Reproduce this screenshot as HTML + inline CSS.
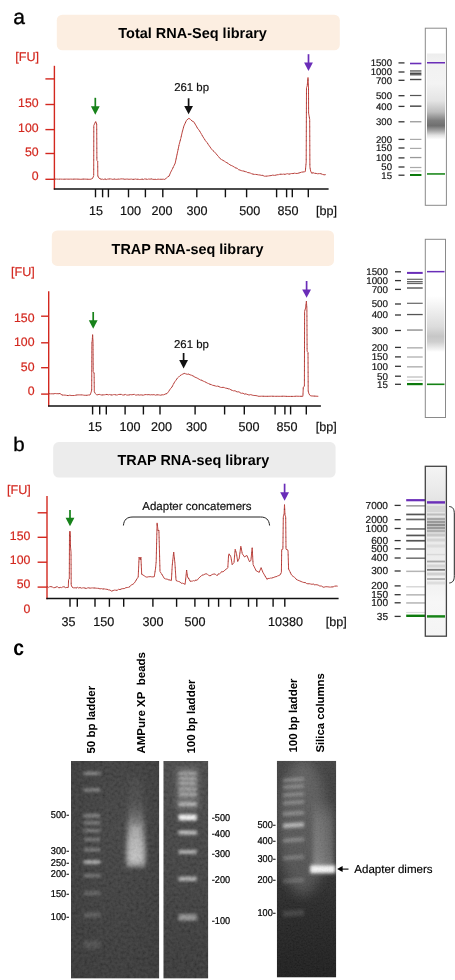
<!DOCTYPE html>
<html><head><meta charset="utf-8"><title>Figure</title>
<style>
html,body{margin:0;padding:0;background:#fff;}
body{width:455px;height:980px;overflow:hidden;font-family:"Liberation Sans",sans-serif;}
svg{display:block;font-family:"Liberation Sans",sans-serif;text-rendering:geometricPrecision;}
</style></head><body>
<svg width="455" height="980" viewBox="0 0 455 980">
<defs>
<filter id="b1" x="-20%" y="-50%" width="140%" height="200%"><feGaussianBlur stdDeviation="1.2"/></filter>
<filter id="b2" x="-20%" y="-50%" width="140%" height="200%"><feGaussianBlur stdDeviation="2.2"/></filter>
<filter id="b05" x="-20%" y="-100%" width="140%" height="300%"><feGaussianBlur stdDeviation="0.5"/></filter>
<filter id="noise" x="0" y="0" width="100%" height="100%">
<feTurbulence type="fractalNoise" baseFrequency="0.55" numOctaves="2" seed="3" result="n"/>
<feColorMatrix in="n" type="matrix" values="0 0 0 0 1  0 0 0 0 1  0 0 0 0 1  0.9 0 0 0 -0.38"/>
</filter>
</defs>
<rect width="455" height="980" fill="#fff"/>

<text x="13.2" y="24.1" font-size="21" fill="#000" stroke="#000" stroke-width="0.35">a</text>
<rect x="56.8" y="14.7" width="283" height="35.6" rx="5.5" fill="#fceee1"/>
<text x="118.3" y="37.6" font-size="14.5" fill="#000" text-anchor="start" font-weight="bold" textLength="148.6" lengthAdjust="spacingAndGlyphs">Total RNA-Seq library</text>
<text x="15.3" y="61.2" font-size="12.6" fill="#d3281f" text-anchor="start" font-weight="normal"  stroke="#d3281f" stroke-width="0.18">[FU]</text>
<line x1="54.4" y1="65.8" x2="54.4" y2="189.6" stroke="#d3281f" stroke-width="1.4" />
<line x1="45.4" y1="78.9" x2="54.4" y2="78.9" stroke="#d3281f" stroke-width="1.4" />
<line x1="45.4" y1="104.5" x2="54.4" y2="104.5" stroke="#d3281f" stroke-width="1.4" />
<line x1="45.4" y1="129.6" x2="54.4" y2="129.6" stroke="#d3281f" stroke-width="1.4" />
<line x1="45.4" y1="153.5" x2="54.4" y2="153.5" stroke="#d3281f" stroke-width="1.4" />
<line x1="45.4" y1="179.3" x2="54.4" y2="179.3" stroke="#d3281f" stroke-width="1.4" />
<text x="38.6" y="107.3" font-size="12.3" fill="#d3281f" text-anchor="end" font-weight="normal"  stroke="#d3281f" stroke-width="0.18">150</text>
<text x="38.6" y="131.8" font-size="12.3" fill="#d3281f" text-anchor="end" font-weight="normal"  stroke="#d3281f" stroke-width="0.18">100</text>
<text x="38.6" y="156.2" font-size="12.3" fill="#d3281f" text-anchor="end" font-weight="normal"  stroke="#d3281f" stroke-width="0.18">50</text>
<text x="38.6" y="180.4" font-size="12.3" fill="#d3281f" text-anchor="end" font-weight="normal"  stroke="#d3281f" stroke-width="0.18">0</text>
<line x1="53.8" y1="189" x2="328.6" y2="189" stroke="#111" stroke-width="1.4" />
<line x1="95.5" y1="189" x2="95.5" y2="197.3" stroke="#111" stroke-width="1.4" />
<line x1="102.6" y1="189" x2="102.6" y2="197.3" stroke="#111" stroke-width="1.4" />
<line x1="108.4" y1="189" x2="108.4" y2="197.3" stroke="#111" stroke-width="1.4" />
<line x1="128.5" y1="189" x2="128.5" y2="197.3" stroke="#111" stroke-width="1.4" />
<line x1="145.4" y1="189" x2="145.4" y2="197.3" stroke="#111" stroke-width="1.4" />
<line x1="162.8" y1="189" x2="162.8" y2="197.3" stroke="#111" stroke-width="1.4" />
<line x1="196.8" y1="189" x2="196.8" y2="197.3" stroke="#111" stroke-width="1.4" />
<line x1="225.4" y1="189" x2="225.4" y2="197.3" stroke="#111" stroke-width="1.4" />
<line x1="246.6" y1="189" x2="246.6" y2="197.3" stroke="#111" stroke-width="1.4" />
<line x1="276.6" y1="189" x2="276.6" y2="197.3" stroke="#111" stroke-width="1.4" />
<line x1="286.6" y1="189" x2="286.6" y2="197.3" stroke="#111" stroke-width="1.4" />
<line x1="292.3" y1="189" x2="292.3" y2="197.3" stroke="#111" stroke-width="1.4" />
<line x1="308.3" y1="189" x2="308.3" y2="197.3" stroke="#111" stroke-width="1.4" />
<text x="96" y="215.3" font-size="12.6" fill="#111" text-anchor="middle" font-weight="normal"  stroke="#111" stroke-width="0.18">15</text>
<text x="130.6" y="215.3" font-size="12.6" fill="#111" text-anchor="middle" font-weight="normal"  stroke="#111" stroke-width="0.18">100</text>
<text x="162" y="215.3" font-size="12.6" fill="#111" text-anchor="middle" font-weight="normal"  stroke="#111" stroke-width="0.18">200</text>
<text x="197" y="215.3" font-size="12.6" fill="#111" text-anchor="middle" font-weight="normal"  stroke="#111" stroke-width="0.18">300</text>
<text x="249.7" y="215.3" font-size="12.6" fill="#111" text-anchor="middle" font-weight="normal"  stroke="#111" stroke-width="0.18">500</text>
<text x="288.1" y="215.3" font-size="12.6" fill="#111" text-anchor="middle" font-weight="normal"  stroke="#111" stroke-width="0.18">850</text>
<text x="326.6" y="215.3" font-size="12.6" fill="#111" text-anchor="middle" font-weight="normal"  stroke="#111" stroke-width="0.18">[bp]</text>
<polyline points="54.5,179.1 56.5,179.1 58.6,179.2 60.6,179.1 62.6,179.2 64.7,179.2 66.7,179.1 68.7,179.2 70.8,179.1 72.8,179.2 74.8,179.1 76.9,179.1 78.9,179.2 80.9,179.3 83.0,179.1 85.0,179.1 87.0,179.2 89.1,179.3 91.1,179.2 93.0,177.8 93.7,175.5 93.8,125.5 95.7,121.5 96.7,124.0 96.9,160.4 97.7,161.2 97.8,176.0 99.0,178.2 101.0,179.2 101.0,179.3 102.3,179.1 103.7,179.5 105.0,178.9 106.3,179.5 107.6,179.1 109.0,179.0 110.3,178.9 111.6,179.1 112.9,179.4 114.2,179.0 115.6,179.3 116.9,179.3 118.2,179.1 119.5,179.2 120.9,178.9 122.2,178.9 123.5,179.0 124.8,179.3 126.2,179.1 127.5,179.1 128.8,179.3 130.2,179.2 131.5,179.1 132.8,179.4 134.1,179.3 135.4,179.0 136.8,179.3 138.1,179.2 139.4,179.5 140.8,179.4 142.1,179.1 143.4,179.5 144.7,178.9 146.1,179.1 147.4,179.4 148.7,179.0 150.0,179.2 151.3,178.9 152.7,179.3 154.0,179.4 155.3,179.3 156.6,179.5 158.0,179.1 159.3,179.3 160.6,179.3 161.9,179.3 163.3,179.2 164.6,179.4 166.1,178.4 167.6,177.0 169.1,176.1 170.6,172.4 172.1,169.6 173.7,166.3 175.2,163.2 176.5,157.0 177.9,150.4 179.2,144.3 180.8,138.4 182.3,131.8 183.9,126.0 186.5,120.3 188.9,118.3 190.5,119.4 192.1,121.1 193.7,121.7 195.0,123.9 196.3,126.0 197.6,128.4 198.9,129.9 200.3,132.2 201.6,134.4 202.9,136.7 204.2,138.7 205.5,140.8 207.0,142.5 208.5,144.8 210.0,146.9 211.4,148.9 212.9,150.6 214.3,151.7 215.7,153.3 217.1,155.0 218.6,156.7 220.0,158.5 221.4,159.5 222.9,160.3 224.3,161.1 225.7,162.1 227.2,162.9 228.6,163.8 230.0,164.9 231.4,165.5 232.9,166.2 234.3,167.1 235.7,167.9 237.2,168.3 238.6,169.7 239.9,170.0 241.2,170.6 242.5,170.9 243.8,171.1 245.1,171.6 246.4,171.8 247.7,172.6 249.0,172.7 250.3,173.1 251.6,173.7 252.9,174.1 254.3,174.4 255.7,174.4 257.2,174.6 258.6,174.9 260.0,175.0 261.4,175.4 262.8,175.4 264.3,176.2 265.7,176.2 267.1,176.1 268.5,175.9 270.0,175.7 271.4,175.5 272.8,175.1 274.3,175.4 275.7,175.2 277.0,174.8 278.4,174.7 279.7,174.3 281.0,174.2 282.4,174.3 283.7,174.1 285.0,174.4 286.4,173.9 287.7,173.7 289.0,174.2 290.4,173.8 291.7,173.5 293.0,173.6 294.4,173.2 295.7,173.4 297.1,173.5 298.6,173.1 300.0,172.7 301.4,172.2 302.9,172.0 304.3,171.8 305.3,171.6 306.2,162.0 306.5,87.7 307.2,86.0 308.0,77.5 308.5,88.0 308.6,113.0 309.7,119.4 309.9,166.9 310.6,171.0 311.7,173.2 312.9,172.9 312.9,172.6 314.5,173.3 316.1,173.4 317.7,173.8 319.3,173.6 320.9,173.7 322.5,174.4 324.1,174.8 325.7,174.6" fill="none" stroke="#c44a45" stroke-width="1.0" stroke-linejoin="round" />
<polyline points="54.5,179.1 56.5,179.1 58.6,179.2 60.6,179.1 62.6,179.2 64.7,179.2 66.7,179.1 68.7,179.2 70.8,179.1 72.8,179.2 74.8,179.1 76.9,179.1 78.9,179.2 80.9,179.3 83.0,179.1 85.0,179.1 87.0,179.2 89.1,179.3 91.1,179.2 93.0,177.8 93.7,175.5 93.8,125.5 95.7,121.5 96.7,124.0 96.9,160.4 97.7,161.2 97.8,176.0 99.0,178.2 101.0,179.2 101.0,179.3 102.3,179.1 103.7,179.5 105.0,178.9 106.3,179.5 107.6,179.1 109.0,179.0 110.3,178.9 111.6,179.1 112.9,179.4 114.2,179.0 115.6,179.3 116.9,179.3 118.2,179.1 119.5,179.2 120.9,178.9 122.2,178.9 123.5,179.0 124.8,179.3 126.2,179.1 127.5,179.1 128.8,179.3 130.2,179.2 131.5,179.1 132.8,179.4 134.1,179.3 135.4,179.0 136.8,179.3 138.1,179.2 139.4,179.5 140.8,179.4 142.1,179.1 143.4,179.5 144.7,178.9 146.1,179.1 147.4,179.4 148.7,179.0 150.0,179.2 151.3,178.9 152.7,179.3 154.0,179.4 155.3,179.3 156.6,179.5 158.0,179.1 159.3,179.3 160.6,179.3 161.9,179.3 163.3,179.2 164.6,179.4 166.1,178.4 167.6,177.0 169.1,176.1 170.6,172.4 172.1,169.6 173.7,166.3 175.2,163.2 176.5,157.0 177.9,150.4 179.2,144.3 180.8,138.4 182.3,131.8 183.9,126.0 186.5,120.3 188.9,118.3 190.5,119.4 192.1,121.1 193.7,121.7 195.0,123.9 196.3,126.0 197.6,128.4 198.9,129.9 200.3,132.2 201.6,134.4 202.9,136.7 204.2,138.7 205.5,140.8 207.0,142.5 208.5,144.8 210.0,146.9 211.4,148.9 212.9,150.6 214.3,151.7 215.7,153.3 217.1,155.0 218.6,156.7 220.0,158.5 221.4,159.5 222.9,160.3 224.3,161.1 225.7,162.1 227.2,162.9 228.6,163.8 230.0,164.9 231.4,165.5 232.9,166.2 234.3,167.1 235.7,167.9 237.2,168.3 238.6,169.7 239.9,170.0 241.2,170.6 242.5,170.9 243.8,171.1 245.1,171.6 246.4,171.8 247.7,172.6 249.0,172.7 250.3,173.1 251.6,173.7 252.9,174.1 254.3,174.4 255.7,174.4 257.2,174.6 258.6,174.9 260.0,175.0 261.4,175.4 262.8,175.4 264.3,176.2 265.7,176.2 267.1,176.1 268.5,175.9 270.0,175.7 271.4,175.5 272.8,175.1 274.3,175.4 275.7,175.2 277.0,174.8 278.4,174.7 279.7,174.3 281.0,174.2 282.4,174.3 283.7,174.1 285.0,174.4 286.4,173.9 287.7,173.7 289.0,174.2 290.4,173.8 291.7,173.5 293.0,173.6 294.4,173.2 295.7,173.4 297.1,173.5 298.6,173.1 300.0,172.7 301.4,172.2 302.9,172.0 304.3,171.8 305.3,171.6 306.2,162.0 306.5,87.7 307.2,86.0 308.0,77.5 308.5,88.0 308.6,113.0 309.7,119.4 309.9,166.9 310.6,171.0 311.7,173.2 312.9,172.9 312.9,172.6 314.5,173.3 316.1,173.4 317.7,173.8 319.3,173.6 320.9,173.7 322.5,174.4 324.1,174.8 325.7,174.6" fill="none" stroke="#3a1a1a" stroke-opacity="0.28" stroke-width="1.0" stroke-dasharray="1.3 3.1 0.8 4.2" stroke-linejoin="round"/>
<line x1="95.3" y1="97.8" x2="95.3" y2="107.3" stroke="#17821a" stroke-width="1.7" />
<polygon points="90.89999999999999,106.3 99.7,106.3 95.3,114.7" fill="#17821a"/>
<text x="191.6" y="91" font-size="11.4" fill="#111" text-anchor="middle" font-weight="normal"  stroke="#111" stroke-width="0.18">261 bp</text>
<line x1="188.6" y1="98.3" x2="188.6" y2="106.89999999999999" stroke="#111" stroke-width="1.7" />
<polygon points="184.2,105.89999999999999 193.0,105.89999999999999 188.6,114.3" fill="#111"/>
<line x1="308.5" y1="54.2" x2="308.5" y2="63.6" stroke="#6a2db8" stroke-width="1.7" />
<polygon points="304.1,62.6 312.9,62.6 308.5,71.0" fill="#6a2db8"/>
<rect x="51.8" y="230.5" width="282.2" height="35.4" rx="5.5" fill="#fceee1"/>
<text x="111.6" y="254" font-size="14.5" fill="#000" text-anchor="start" font-weight="bold" textLength="151.8" lengthAdjust="spacingAndGlyphs">TRAP RNA-seq library</text>
<text x="11" y="276.2" font-size="12.6" fill="#d3281f" text-anchor="start" font-weight="normal"  stroke="#d3281f" stroke-width="0.18">[FU]</text>
<line x1="48.7" y1="291.2" x2="48.7" y2="406.6" stroke="#d3281f" stroke-width="1.4" />
<line x1="41.1" y1="316.2" x2="48.7" y2="316.2" stroke="#d3281f" stroke-width="1.4" />
<line x1="41.1" y1="342.8" x2="48.7" y2="342.8" stroke="#d3281f" stroke-width="1.4" />
<line x1="41.1" y1="367.7" x2="48.7" y2="367.7" stroke="#d3281f" stroke-width="1.4" />
<line x1="41.1" y1="394.1" x2="48.7" y2="394.1" stroke="#d3281f" stroke-width="1.4" />
<text x="34.5" y="322.3" font-size="12.3" fill="#d3281f" text-anchor="end" font-weight="normal"  stroke="#d3281f" stroke-width="0.18">150</text>
<text x="34.5" y="346.4" font-size="12.3" fill="#d3281f" text-anchor="end" font-weight="normal"  stroke="#d3281f" stroke-width="0.18">100</text>
<text x="34.5" y="370.9" font-size="12.3" fill="#d3281f" text-anchor="end" font-weight="normal"  stroke="#d3281f" stroke-width="0.18">50</text>
<text x="34.5" y="395.1" font-size="12.3" fill="#d3281f" text-anchor="end" font-weight="normal"  stroke="#d3281f" stroke-width="0.18">0</text>
<line x1="48.1" y1="406" x2="320.9" y2="406" stroke="#111" stroke-width="1.4" />
<line x1="92.6" y1="406" x2="92.6" y2="414.5" stroke="#111" stroke-width="1.4" />
<line x1="99.7" y1="406" x2="99.7" y2="414.5" stroke="#111" stroke-width="1.4" />
<line x1="106.3" y1="406" x2="106.3" y2="414.5" stroke="#111" stroke-width="1.4" />
<line x1="125.1" y1="406" x2="125.1" y2="414.5" stroke="#111" stroke-width="1.4" />
<line x1="143.4" y1="406" x2="143.4" y2="414.5" stroke="#111" stroke-width="1.4" />
<line x1="160" y1="406" x2="160" y2="414.5" stroke="#111" stroke-width="1.4" />
<line x1="195.1" y1="406" x2="195.1" y2="414.5" stroke="#111" stroke-width="1.4" />
<line x1="224.6" y1="406" x2="224.6" y2="414.5" stroke="#111" stroke-width="1.4" />
<line x1="244.3" y1="406" x2="244.3" y2="414.5" stroke="#111" stroke-width="1.4" />
<line x1="275.1" y1="406" x2="275.1" y2="414.5" stroke="#111" stroke-width="1.4" />
<line x1="284.9" y1="406" x2="284.9" y2="414.5" stroke="#111" stroke-width="1.4" />
<line x1="290.6" y1="406" x2="290.6" y2="414.5" stroke="#111" stroke-width="1.4" />
<line x1="306.3" y1="406" x2="306.3" y2="414.5" stroke="#111" stroke-width="1.4" />
<text x="95" y="431" font-size="12.6" fill="#111" text-anchor="middle" font-weight="normal"  stroke="#111" stroke-width="0.18">15</text>
<text x="130" y="431" font-size="12.6" fill="#111" text-anchor="middle" font-weight="normal"  stroke="#111" stroke-width="0.18">100</text>
<text x="161.4" y="431" font-size="12.6" fill="#111" text-anchor="middle" font-weight="normal"  stroke="#111" stroke-width="0.18">200</text>
<text x="196.6" y="431" font-size="12.6" fill="#111" text-anchor="middle" font-weight="normal"  stroke="#111" stroke-width="0.18">300</text>
<text x="249.1" y="431" font-size="12.6" fill="#111" text-anchor="middle" font-weight="normal"  stroke="#111" stroke-width="0.18">500</text>
<text x="287.1" y="431" font-size="12.6" fill="#111" text-anchor="middle" font-weight="normal"  stroke="#111" stroke-width="0.18">850</text>
<text x="326.3" y="431" font-size="12.6" fill="#111" text-anchor="middle" font-weight="normal"  stroke="#111" stroke-width="0.18">[bp]</text>
<polyline points="48.8,393.7 50.4,393.8 52.0,393.8 53.6,393.8 55.2,393.5 56.8,393.7 58.4,393.7 60.0,393.5 62.0,395.0 63.6,395.1 65.1,395.1 66.7,395.4 68.2,395.6 69.8,395.2 71.3,395.5 72.9,395.5 74.4,395.5 76.0,395.1 77.6,394.9 79.1,394.9 80.7,394.9 82.2,394.9 83.8,395.2 85.3,395.3 86.9,395.3 88.4,395.0 90.0,395.0 90.3,394.5 91.2,392.0 91.7,390.0 91.9,343.0 92.3,340.0 92.6,334.6 93.0,342.0 93.2,371.5 94.1,373.0 94.3,391.5 95.2,393.5 96.5,394.6 96.5,394.7 97.8,394.8 99.1,394.3 100.4,394.7 101.7,395.0 103.0,394.9 104.4,394.8 105.7,394.6 107.0,394.4 108.3,394.9 109.6,394.5 110.9,394.9 112.2,395.0 113.5,394.6 114.8,394.6 116.2,395.0 117.5,394.9 118.8,394.4 120.1,394.4 121.4,394.4 122.7,395.0 124.0,395.0 125.3,394.4 126.6,395.0 127.9,395.1 129.2,394.9 130.6,394.6 131.9,394.8 133.2,394.5 134.5,394.4 135.8,395.2 137.1,394.9 138.4,394.8 139.7,395.1 141.0,394.8 142.3,395.1 143.7,395.1 145.0,394.6 146.3,394.6 147.6,394.7 148.9,394.6 150.2,394.9 151.5,394.7 152.8,394.8 154.1,394.6 155.4,395.2 156.8,394.8 158.1,394.8 159.4,395.0 160.7,395.2 162.0,394.8 163.7,394.8 165.4,394.0 167.1,393.5 168.7,391.4 170.4,388.8 172.0,387.0 173.3,384.4 174.7,381.9 176.0,380.2 177.3,378.2 178.7,377.0 180.0,375.7 181.4,374.8 182.9,374.0 184.3,373.4 185.7,373.8 187.2,374.3 188.6,374.1 190.0,374.8 191.7,375.3 193.3,376.1 195.0,377.2 196.4,377.7 197.7,378.4 199.1,379.2 200.5,380.0 201.8,380.3 203.2,381.1 204.5,381.6 205.9,382.3 207.3,383.1 208.6,383.6 210.0,384.3 211.3,384.6 212.6,385.3 213.9,385.5 215.2,385.9 216.5,386.3 217.8,386.1 219.2,386.7 220.5,387.3 221.8,387.5 223.1,387.3 224.4,387.6 225.7,388.2 227.0,388.3 228.3,388.8 229.7,389.0 231.0,389.9 232.3,390.4 233.7,390.9 235.0,390.7 236.3,391.5 237.6,391.9 239.0,391.8 240.3,392.8 241.6,393.3 243.0,393.1 244.3,394.1 245.6,393.9 246.9,394.2 248.2,394.8 249.5,394.9 250.8,394.6 252.1,395.1 253.4,395.4 254.7,395.5 256.0,395.6 257.3,395.9 258.6,396.3 258.6,396.3 261.8,396.2 264.9,396.3 268.1,396.3 271.3,396.2 274.4,396.3 277.6,396.3 280.8,396.3 283.9,396.2 287.1,396.4 290.2,396.4 293.4,396.4 296.6,396.2 299.7,396.3 302.9,396.3 302.9,396.3 303.3,387.0 304.4,386.4 304.6,311.3 305.6,308.0 306.4,301.2 306.9,309.0 307.1,351.2 308.0,352.5 308.2,391.0 309.0,394.0 310.6,395.9 318.3,396.3" fill="none" stroke="#c44a45" stroke-width="1.0" stroke-linejoin="round" />
<polyline points="48.8,393.7 50.4,393.8 52.0,393.8 53.6,393.8 55.2,393.5 56.8,393.7 58.4,393.7 60.0,393.5 62.0,395.0 63.6,395.1 65.1,395.1 66.7,395.4 68.2,395.6 69.8,395.2 71.3,395.5 72.9,395.5 74.4,395.5 76.0,395.1 77.6,394.9 79.1,394.9 80.7,394.9 82.2,394.9 83.8,395.2 85.3,395.3 86.9,395.3 88.4,395.0 90.0,395.0 90.3,394.5 91.2,392.0 91.7,390.0 91.9,343.0 92.3,340.0 92.6,334.6 93.0,342.0 93.2,371.5 94.1,373.0 94.3,391.5 95.2,393.5 96.5,394.6 96.5,394.7 97.8,394.8 99.1,394.3 100.4,394.7 101.7,395.0 103.0,394.9 104.4,394.8 105.7,394.6 107.0,394.4 108.3,394.9 109.6,394.5 110.9,394.9 112.2,395.0 113.5,394.6 114.8,394.6 116.2,395.0 117.5,394.9 118.8,394.4 120.1,394.4 121.4,394.4 122.7,395.0 124.0,395.0 125.3,394.4 126.6,395.0 127.9,395.1 129.2,394.9 130.6,394.6 131.9,394.8 133.2,394.5 134.5,394.4 135.8,395.2 137.1,394.9 138.4,394.8 139.7,395.1 141.0,394.8 142.3,395.1 143.7,395.1 145.0,394.6 146.3,394.6 147.6,394.7 148.9,394.6 150.2,394.9 151.5,394.7 152.8,394.8 154.1,394.6 155.4,395.2 156.8,394.8 158.1,394.8 159.4,395.0 160.7,395.2 162.0,394.8 163.7,394.8 165.4,394.0 167.1,393.5 168.7,391.4 170.4,388.8 172.0,387.0 173.3,384.4 174.7,381.9 176.0,380.2 177.3,378.2 178.7,377.0 180.0,375.7 181.4,374.8 182.9,374.0 184.3,373.4 185.7,373.8 187.2,374.3 188.6,374.1 190.0,374.8 191.7,375.3 193.3,376.1 195.0,377.2 196.4,377.7 197.7,378.4 199.1,379.2 200.5,380.0 201.8,380.3 203.2,381.1 204.5,381.6 205.9,382.3 207.3,383.1 208.6,383.6 210.0,384.3 211.3,384.6 212.6,385.3 213.9,385.5 215.2,385.9 216.5,386.3 217.8,386.1 219.2,386.7 220.5,387.3 221.8,387.5 223.1,387.3 224.4,387.6 225.7,388.2 227.0,388.3 228.3,388.8 229.7,389.0 231.0,389.9 232.3,390.4 233.7,390.9 235.0,390.7 236.3,391.5 237.6,391.9 239.0,391.8 240.3,392.8 241.6,393.3 243.0,393.1 244.3,394.1 245.6,393.9 246.9,394.2 248.2,394.8 249.5,394.9 250.8,394.6 252.1,395.1 253.4,395.4 254.7,395.5 256.0,395.6 257.3,395.9 258.6,396.3 258.6,396.3 261.8,396.2 264.9,396.3 268.1,396.3 271.3,396.2 274.4,396.3 277.6,396.3 280.8,396.3 283.9,396.2 287.1,396.4 290.2,396.4 293.4,396.4 296.6,396.2 299.7,396.3 302.9,396.3 302.9,396.3 303.3,387.0 304.4,386.4 304.6,311.3 305.6,308.0 306.4,301.2 306.9,309.0 307.1,351.2 308.0,352.5 308.2,391.0 309.0,394.0 310.6,395.9 318.3,396.3" fill="none" stroke="#3a1a1a" stroke-opacity="0.28" stroke-width="1.0" stroke-dasharray="1.3 3.1 0.8 4.2" stroke-linejoin="round"/>
<line x1="93.2" y1="312" x2="93.2" y2="321.3" stroke="#17821a" stroke-width="1.7" />
<polygon points="88.8,320.3 97.60000000000001,320.3 93.2,328.7" fill="#17821a"/>
<text x="191.4" y="347.5" font-size="11.4" fill="#111" text-anchor="middle" font-weight="normal"  stroke="#111" stroke-width="0.18">261 bp</text>
<line x1="183.6" y1="353" x2="183.6" y2="361.0" stroke="#111" stroke-width="1.7" />
<polygon points="179.2,360.0 188.0,360.0 183.6,368.4" fill="#111"/>
<line x1="306.6" y1="281" x2="306.6" y2="290.40000000000003" stroke="#6a2db8" stroke-width="1.7" />
<polygon points="302.20000000000005,289.40000000000003 311.0,289.40000000000003 306.6,297.8" fill="#6a2db8"/>
<text transform="translate(13.2,451) scale(1.05,1)" font-size="19.6" fill="#000" stroke="#000" stroke-width="0.3">b</text>
<rect x="53.2" y="442.1" width="282.4" height="35.4" rx="5.5" fill="#ececec"/>
<text x="117.5" y="464.7" font-size="14.5" fill="#000" text-anchor="start" font-weight="bold" textLength="151.8" lengthAdjust="spacingAndGlyphs">TRAP RNA-seq library</text>
<text x="7" y="494.2" font-size="12.6" fill="#d3281f" text-anchor="start" font-weight="normal"  stroke="#d3281f" stroke-width="0.18">[FU]</text>
<line x1="47" y1="496.1" x2="47" y2="599.2" stroke="#d3281f" stroke-width="1.4" />
<line x1="37.6" y1="512.8" x2="47" y2="512.8" stroke="#d3281f" stroke-width="1.4" />
<line x1="37.6" y1="537.3" x2="47" y2="537.3" stroke="#d3281f" stroke-width="1.4" />
<line x1="37.6" y1="562.2" x2="47" y2="562.2" stroke="#d3281f" stroke-width="1.4" />
<line x1="37.6" y1="587.1" x2="47" y2="587.1" stroke="#d3281f" stroke-width="1.4" />
<text x="30.4" y="540.2" font-size="12.3" fill="#d3281f" text-anchor="end" font-weight="normal"  stroke="#d3281f" stroke-width="0.18">150</text>
<text x="30.4" y="564.4" font-size="12.3" fill="#d3281f" text-anchor="end" font-weight="normal"  stroke="#d3281f" stroke-width="0.18">100</text>
<text x="30.4" y="588.4" font-size="12.3" fill="#d3281f" text-anchor="end" font-weight="normal"  stroke="#d3281f" stroke-width="0.18">50</text>
<text x="30.4" y="612.5" font-size="12.3" fill="#d3281f" text-anchor="end" font-weight="normal"  stroke="#d3281f" stroke-width="0.18">0</text>
<line x1="46.3" y1="598.5" x2="338.6" y2="598.5" stroke="#111" stroke-width="1.4" />
<line x1="70" y1="598.5" x2="70" y2="606.8" stroke="#111" stroke-width="1.4" />
<line x1="77.3" y1="598.5" x2="77.3" y2="606.8" stroke="#111" stroke-width="1.4" />
<line x1="95" y1="598.5" x2="95" y2="606.8" stroke="#111" stroke-width="1.4" />
<line x1="109.4" y1="598.5" x2="109.4" y2="606.8" stroke="#111" stroke-width="1.4" />
<line x1="123.7" y1="598.5" x2="123.7" y2="606.8" stroke="#111" stroke-width="1.4" />
<line x1="152.9" y1="598.5" x2="152.9" y2="606.8" stroke="#111" stroke-width="1.4" />
<line x1="176.6" y1="598.5" x2="176.6" y2="606.8" stroke="#111" stroke-width="1.4" />
<line x1="194.9" y1="598.5" x2="194.9" y2="606.8" stroke="#111" stroke-width="1.4" />
<line x1="208.6" y1="598.5" x2="208.6" y2="606.8" stroke="#111" stroke-width="1.4" />
<line x1="218.6" y1="598.5" x2="218.6" y2="606.8" stroke="#111" stroke-width="1.4" />
<line x1="230.6" y1="598.5" x2="230.6" y2="606.8" stroke="#111" stroke-width="1.4" />
<line x1="248.5" y1="598.5" x2="248.5" y2="606.8" stroke="#111" stroke-width="1.4" />
<line x1="256.8" y1="598.5" x2="256.8" y2="606.8" stroke="#111" stroke-width="1.4" />
<line x1="273.1" y1="598.5" x2="273.1" y2="606.8" stroke="#111" stroke-width="1.4" />
<line x1="284.8" y1="598.5" x2="284.8" y2="606.8" stroke="#111" stroke-width="1.4" />
<text x="68.6" y="626" font-size="12.6" fill="#111" text-anchor="middle" font-weight="normal"  stroke="#111" stroke-width="0.18">35</text>
<text x="103.7" y="626" font-size="12.6" fill="#111" text-anchor="middle" font-weight="normal"  stroke="#111" stroke-width="0.18">150</text>
<text x="152.9" y="626" font-size="12.6" fill="#111" text-anchor="middle" font-weight="normal"  stroke="#111" stroke-width="0.18">300</text>
<text x="194.9" y="626" font-size="12.6" fill="#111" text-anchor="middle" font-weight="normal"  stroke="#111" stroke-width="0.18">500</text>
<text x="285.4" y="626" font-size="12.6" fill="#111" text-anchor="middle" font-weight="normal"  stroke="#111" stroke-width="0.18">10380</text>
<text x="336.2" y="626" font-size="12.6" fill="#111" text-anchor="middle" font-weight="normal"  stroke="#111" stroke-width="0.18">[bp]</text>
<polyline points="47.0,586.4 48.3,587.4 49.6,586.7 51.0,586.6 52.3,587.0 53.6,587.7 55.0,587.6 56.3,586.9 57.6,586.8 58.9,587.9 60.2,587.4 61.6,587.6 62.9,586.8 64.2,586.8 65.6,587.7 66.9,587.4 68.2,587.5 68.3,587.3 68.6,579.5 69.3,579.0 69.5,531.5 70.3,531.5 70.5,547.0 71.0,552.0 71.2,585.0 72.0,587.0 72.5,587.5 72.5,587.1 73.8,588.0 75.0,587.7 76.2,588.0 77.5,587.3 78.8,588.1 80.0,587.4 81.2,588.2 82.5,587.9 83.8,587.8 85.0,588.1 86.2,588.5 87.5,587.9 88.8,587.8 90.0,588.2 91.2,588.0 92.5,587.9 93.8,588.0 95.0,588.0 96.2,588.2 97.5,588.3 98.8,588.4 100.0,588.9 101.4,588.6 102.8,589.0 104.3,588.9 105.7,589.2 107.1,589.3 108.6,589.9 110.0,590.0 111.4,591.1 112.8,590.7 114.2,590.1 115.7,590.2 117.1,590.4 118.5,589.3 120.0,589.6 121.5,588.9 122.9,588.6 124.3,588.6 125.8,587.7 127.2,587.5 128.6,587.3 130.0,586.5 131.4,584.8 132.9,584.3 134.3,583.1 135.6,581.1 136.9,578.9 138.2,577.1 139.1,557.1 140.2,560.0 140.9,557.0 141.7,574.3 141.7,574.2 143.0,575.0 144.4,575.9 145.7,576.8 146.9,577.2 148.2,576.8 149.4,576.7 150.6,576.6 151.8,576.9 153.1,576.9 154.3,576.6 155.6,568.0 156.2,561.4 157.1,522.9 158.1,531.0 158.9,530.0 160.0,571.4 160.0,571.5 161.4,573.6 162.9,576.0 164.3,578.4 165.7,579.0 167.1,579.1 168.6,579.8 170.0,580.0 171.4,580.6 172.2,566.0 172.8,560.0 173.7,552.0 174.9,562.9 176.0,580.0 176.0,580.4 177.3,581.1 178.7,581.5 180.1,582.0 181.4,583.3 182.6,583.2 183.9,583.7 185.1,584.3 186.0,576.0 186.6,570.0 187.6,577.0 188.5,578.6 188.5,577.9 190.0,581.2 191.2,581.2 192.4,581.1 193.6,580.6 194.7,580.9 195.9,580.0 197.1,580.3 198.6,578.3 200.0,577.0 201.3,575.8 202.5,575.1 203.8,574.8 205.0,574.0 206.3,573.8 207.5,574.4 208.8,575.4 210.0,575.9 211.4,575.0 212.9,574.2 214.3,574.0 215.7,574.4 217.1,575.8 218.3,573.9 219.4,573.9 220.6,573.1 221.7,571.5 222.9,571.9 224.1,571.0 225.4,569.7 226.6,569.0 227.8,567.7 228.6,554.9 229.1,553.8 230.9,556.9 232.2,564.6 234.0,562.5 235.2,549.2 236.5,553.8 237.7,561.5 239.2,558.5 240.8,546.2 242.3,553.8 244.5,556.9 246.9,555.4 249.4,561.5 250.9,560.6 252.2,547.7 253.1,564.6 256.2,570.8 259.2,572.3 261.1,567.7 262.9,572.3 266.9,579.1 266.9,579.4 268.0,578.4 269.2,578.5 270.4,578.1 271.5,578.1 272.7,577.7 273.9,577.4 275.0,576.8 276.2,576.7 277.5,576.0 278.9,575.5 280.2,574.8 281.4,572.3 281.7,549.5 282.9,549.2 283.3,516.9 284.1,514.0 284.5,504.6 285.0,515.0 285.7,516.9 286.0,549.2 288.0,550.2 288.6,569.2 288.5,568.9 290.0,571.8 291.5,575.0 293.1,576.4 294.6,577.3 296.1,579.2 297.7,580.1 299.2,580.7 300.8,581.4 302.3,582.0 303.9,582.5 305.4,582.6 306.7,583.6 308.0,583.8 309.3,583.7 310.7,584.0 312.0,584.3 313.3,584.0 314.6,584.8 315.9,584.7 317.2,584.8 318.5,585.3 319.9,586.1 321.2,585.9 322.5,586.7 323.8,587.3 325.1,586.8 326.5,586.7 327.8,586.8 329.1,587.0 330.4,587.1 331.8,586.9 333.1,586.9 334.6,586.2 336.2,586.0 337.7,586.2" fill="none" stroke="#c44a45" stroke-width="1.0" stroke-linejoin="round" />
<polyline points="47.0,586.4 48.3,587.4 49.6,586.7 51.0,586.6 52.3,587.0 53.6,587.7 55.0,587.6 56.3,586.9 57.6,586.8 58.9,587.9 60.2,587.4 61.6,587.6 62.9,586.8 64.2,586.8 65.6,587.7 66.9,587.4 68.2,587.5 68.3,587.3 68.6,579.5 69.3,579.0 69.5,531.5 70.3,531.5 70.5,547.0 71.0,552.0 71.2,585.0 72.0,587.0 72.5,587.5 72.5,587.1 73.8,588.0 75.0,587.7 76.2,588.0 77.5,587.3 78.8,588.1 80.0,587.4 81.2,588.2 82.5,587.9 83.8,587.8 85.0,588.1 86.2,588.5 87.5,587.9 88.8,587.8 90.0,588.2 91.2,588.0 92.5,587.9 93.8,588.0 95.0,588.0 96.2,588.2 97.5,588.3 98.8,588.4 100.0,588.9 101.4,588.6 102.8,589.0 104.3,588.9 105.7,589.2 107.1,589.3 108.6,589.9 110.0,590.0 111.4,591.1 112.8,590.7 114.2,590.1 115.7,590.2 117.1,590.4 118.5,589.3 120.0,589.6 121.5,588.9 122.9,588.6 124.3,588.6 125.8,587.7 127.2,587.5 128.6,587.3 130.0,586.5 131.4,584.8 132.9,584.3 134.3,583.1 135.6,581.1 136.9,578.9 138.2,577.1 139.1,557.1 140.2,560.0 140.9,557.0 141.7,574.3 141.7,574.2 143.0,575.0 144.4,575.9 145.7,576.8 146.9,577.2 148.2,576.8 149.4,576.7 150.6,576.6 151.8,576.9 153.1,576.9 154.3,576.6 155.6,568.0 156.2,561.4 157.1,522.9 158.1,531.0 158.9,530.0 160.0,571.4 160.0,571.5 161.4,573.6 162.9,576.0 164.3,578.4 165.7,579.0 167.1,579.1 168.6,579.8 170.0,580.0 171.4,580.6 172.2,566.0 172.8,560.0 173.7,552.0 174.9,562.9 176.0,580.0 176.0,580.4 177.3,581.1 178.7,581.5 180.1,582.0 181.4,583.3 182.6,583.2 183.9,583.7 185.1,584.3 186.0,576.0 186.6,570.0 187.6,577.0 188.5,578.6 188.5,577.9 190.0,581.2 191.2,581.2 192.4,581.1 193.6,580.6 194.7,580.9 195.9,580.0 197.1,580.3 198.6,578.3 200.0,577.0 201.3,575.8 202.5,575.1 203.8,574.8 205.0,574.0 206.3,573.8 207.5,574.4 208.8,575.4 210.0,575.9 211.4,575.0 212.9,574.2 214.3,574.0 215.7,574.4 217.1,575.8 218.3,573.9 219.4,573.9 220.6,573.1 221.7,571.5 222.9,571.9 224.1,571.0 225.4,569.7 226.6,569.0 227.8,567.7 228.6,554.9 229.1,553.8 230.9,556.9 232.2,564.6 234.0,562.5 235.2,549.2 236.5,553.8 237.7,561.5 239.2,558.5 240.8,546.2 242.3,553.8 244.5,556.9 246.9,555.4 249.4,561.5 250.9,560.6 252.2,547.7 253.1,564.6 256.2,570.8 259.2,572.3 261.1,567.7 262.9,572.3 266.9,579.1 266.9,579.4 268.0,578.4 269.2,578.5 270.4,578.1 271.5,578.1 272.7,577.7 273.9,577.4 275.0,576.8 276.2,576.7 277.5,576.0 278.9,575.5 280.2,574.8 281.4,572.3 281.7,549.5 282.9,549.2 283.3,516.9 284.1,514.0 284.5,504.6 285.0,515.0 285.7,516.9 286.0,549.2 288.0,550.2 288.6,569.2 288.5,568.9 290.0,571.8 291.5,575.0 293.1,576.4 294.6,577.3 296.1,579.2 297.7,580.1 299.2,580.7 300.8,581.4 302.3,582.0 303.9,582.5 305.4,582.6 306.7,583.6 308.0,583.8 309.3,583.7 310.7,584.0 312.0,584.3 313.3,584.0 314.6,584.8 315.9,584.7 317.2,584.8 318.5,585.3 319.9,586.1 321.2,585.9 322.5,586.7 323.8,587.3 325.1,586.8 326.5,586.7 327.8,586.8 329.1,587.0 330.4,587.1 331.8,586.9 333.1,586.9 334.6,586.2 336.2,586.0 337.7,586.2" fill="none" stroke="#3a1a1a" stroke-opacity="0.28" stroke-width="1.0" stroke-dasharray="1.3 3.1 0.8 4.2" stroke-linejoin="round"/>
<line x1="70" y1="510" x2="70" y2="518.8000000000001" stroke="#17821a" stroke-width="1.7" />
<polygon points="65.6,517.8000000000001 74.4,517.8000000000001 70,526.2" fill="#17821a"/>
<line x1="284.6" y1="483.7" x2="284.6" y2="493.3" stroke="#6a2db8" stroke-width="1.7" />
<polygon points="280.20000000000005,492.3 289.0,492.3 284.6,500.7" fill="#6a2db8"/>
<path d="M123.4,525.5 C124,519.5 127,517 133,517 H260.5 C266,517 269,519.5 269.6,525.5" fill="none" stroke="#222" stroke-width="1"/>
<text x="142.3" y="509.5" font-size="11.5" fill="#111" text-anchor="start" font-weight="normal" stroke="#000" stroke-width="0.15">Adapter concatemers</text>
<defs>
<linearGradient id="sm1" x1="0" y1="0" x2="0" y2="1"><stop offset="0" stop-color="#ededed"/><stop offset="0.08" stop-color="#f1f1f1"/><stop offset="0.35" stop-color="#f3f3f3"/><stop offset="0.55" stop-color="#e4e4e4"/><stop offset="0.68" stop-color="#bdbdbd"/><stop offset="0.78" stop-color="#7e7e7e"/><stop offset="0.84" stop-color="#6f6f6f"/><stop offset="0.90" stop-color="#a9a9a9"/><stop offset="0.95" stop-color="#e2e2e2"/><stop offset="1" stop-color="#fff"/></linearGradient>
<linearGradient id="sm2" x1="0" y1="0" x2="0" y2="1"><stop offset="0" stop-color="#fff"/><stop offset="0.25" stop-color="#efefef"/><stop offset="0.55" stop-color="#dcdcdc"/><stop offset="0.72" stop-color="#c6c6c6"/><stop offset="0.82" stop-color="#cfcfcf"/><stop offset="1" stop-color="#fff"/></linearGradient>
<linearGradient id="sm3" x1="0" y1="0" x2="0" y2="1"><stop offset="0" stop-color="#f4f4f4"/><stop offset="0.12" stop-color="#ebebeb"/><stop offset="0.2" stop-color="#e4e4e4"/><stop offset="0.5" stop-color="#ececec"/><stop offset="0.72" stop-color="#f3f3f3"/><stop offset="0.8" stop-color="#f7f7f7"/><stop offset="1" stop-color="#f4f4f4"/></linearGradient>
</defs>
<text x="392" y="66.3" font-size="9.6" fill="#151515" text-anchor="end" font-weight="normal"  stroke="#151515" stroke-width="0.18">1500</text>
<line x1="398.5" y1="62.9" x2="404.5" y2="62.9" stroke="#333" stroke-width="1.3" />
<text x="392" y="75.4" font-size="9.6" fill="#151515" text-anchor="end" font-weight="normal"  stroke="#151515" stroke-width="0.18">1000</text>
<line x1="398.5" y1="72" x2="404.5" y2="72" stroke="#333" stroke-width="1.3" />
<text x="392" y="83.7" font-size="9.6" fill="#151515" text-anchor="end" font-weight="normal"  stroke="#151515" stroke-width="0.18">700</text>
<line x1="398.5" y1="80.3" x2="404.5" y2="80.3" stroke="#333" stroke-width="1.3" />
<text x="392" y="99.10000000000001" font-size="9.6" fill="#151515" text-anchor="end" font-weight="normal"  stroke="#151515" stroke-width="0.18">500</text>
<line x1="398.5" y1="95.7" x2="404.5" y2="95.7" stroke="#333" stroke-width="1.3" />
<text x="392" y="109.80000000000001" font-size="9.6" fill="#151515" text-anchor="end" font-weight="normal"  stroke="#151515" stroke-width="0.18">400</text>
<line x1="398.5" y1="106.4" x2="404.5" y2="106.4" stroke="#333" stroke-width="1.3" />
<text x="392" y="125.2" font-size="9.6" fill="#151515" text-anchor="end" font-weight="normal"  stroke="#151515" stroke-width="0.18">300</text>
<line x1="398.5" y1="121.8" x2="404.5" y2="121.8" stroke="#333" stroke-width="1.3" />
<text x="392" y="142.8" font-size="9.6" fill="#151515" text-anchor="end" font-weight="normal"  stroke="#151515" stroke-width="0.18">200</text>
<line x1="398.5" y1="139.4" x2="404.5" y2="139.4" stroke="#333" stroke-width="1.3" />
<text x="392" y="151.4" font-size="9.6" fill="#151515" text-anchor="end" font-weight="normal"  stroke="#151515" stroke-width="0.18">150</text>
<line x1="398.5" y1="148" x2="404.5" y2="148" stroke="#333" stroke-width="1.3" />
<text x="392" y="161.3" font-size="9.6" fill="#151515" text-anchor="end" font-weight="normal"  stroke="#151515" stroke-width="0.18">100</text>
<line x1="398.5" y1="157.9" x2="404.5" y2="157.9" stroke="#333" stroke-width="1.3" />
<text x="392" y="170.4" font-size="9.6" fill="#151515" text-anchor="end" font-weight="normal"  stroke="#151515" stroke-width="0.18">50</text>
<line x1="398.5" y1="167" x2="404.5" y2="167" stroke="#333" stroke-width="1.3" />
<text x="392" y="178.6" font-size="9.6" fill="#151515" text-anchor="end" font-weight="normal"  stroke="#151515" stroke-width="0.18">15</text>
<line x1="398.5" y1="175.2" x2="404.5" y2="175.2" stroke="#333" stroke-width="1.3" />
<rect x="410" y="62.7" width="11.4" height="1.6" fill="#6a2db8" filter="url(#b05)"/>
<rect x="410" y="70.3" width="11.4" height="1.3" fill="#555" filter="url(#b05)"/>
<rect x="410" y="72.6" width="11.4" height="1.3" fill="#333" filter="url(#b05)"/>
<rect x="410" y="74.2" width="11.4" height="1.2" fill="#444" filter="url(#b05)"/>
<rect x="410" y="78.8" width="11.4" height="1.4" fill="#444" filter="url(#b05)"/>
<rect x="410" y="94.9" width="11.4" height="1.2" fill="#555" filter="url(#b05)"/>
<rect x="410" y="105.5" width="11.4" height="1.3" fill="#333" filter="url(#b05)"/>
<rect x="410" y="121.1" width="11.4" height="1.3" fill="#999" filter="url(#b05)"/>
<rect x="410" y="138.8" width="11.4" height="1.2" fill="#aaa" filter="url(#b05)"/>
<rect x="410" y="147.8" width="11.4" height="1.2" fill="#aaa" filter="url(#b05)"/>
<rect x="410" y="156.9" width="11.4" height="1.3" fill="#999" filter="url(#b05)"/>
<rect x="410" y="166.9" width="11.4" height="1.2" fill="#aaa" filter="url(#b05)"/>
<rect x="410" y="170.4" width="11.4" height="1.1" fill="#bbb" filter="url(#b05)"/>
<rect x="410" y="174.0" width="11.4" height="2" fill="#0f7a0f" filter="url(#b05)"/>
<rect x="427" y="53.5" width="18" height="86" fill="url(#sm1)"/>
<rect x="425.3" y="28.2" width="21.1" height="177.1" fill="none" stroke="#8a8a8a" stroke-width="1"/>
<rect x="427" y="62.0" width="18.0" height="1.5" fill="#6a2db8" filter="url(#b05)"/>
<rect x="427" y="173.2" width="18.0" height="1.5" fill="#148214" filter="url(#b05)"/>
<text x="388" y="275.2" font-size="9.8" fill="#151515" text-anchor="end" font-weight="normal"  stroke="#151515" stroke-width="0.18">1500</text>
<line x1="395" y1="271.8" x2="401" y2="271.8" stroke="#333" stroke-width="1.3" />
<text x="388" y="284.0" font-size="9.8" fill="#151515" text-anchor="end" font-weight="normal"  stroke="#151515" stroke-width="0.18">1000</text>
<line x1="395" y1="280.6" x2="401" y2="280.6" stroke="#333" stroke-width="1.3" />
<text x="388" y="292.79999999999995" font-size="9.8" fill="#151515" text-anchor="end" font-weight="normal"  stroke="#151515" stroke-width="0.18">700</text>
<line x1="395" y1="289.4" x2="401" y2="289.4" stroke="#333" stroke-width="1.3" />
<text x="388" y="307.4" font-size="9.8" fill="#151515" text-anchor="end" font-weight="normal"  stroke="#151515" stroke-width="0.18">500</text>
<line x1="395" y1="304" x2="401" y2="304" stroke="#333" stroke-width="1.3" />
<text x="388" y="318.4" font-size="9.8" fill="#151515" text-anchor="end" font-weight="normal"  stroke="#151515" stroke-width="0.18">400</text>
<line x1="395" y1="315" x2="401" y2="315" stroke="#333" stroke-width="1.3" />
<text x="388" y="333.9" font-size="9.8" fill="#151515" text-anchor="end" font-weight="normal"  stroke="#151515" stroke-width="0.18">300</text>
<line x1="395" y1="330.5" x2="401" y2="330.5" stroke="#333" stroke-width="1.3" />
<text x="388" y="350.79999999999995" font-size="9.8" fill="#151515" text-anchor="end" font-weight="normal"  stroke="#151515" stroke-width="0.18">200</text>
<line x1="395" y1="347.4" x2="401" y2="347.4" stroke="#333" stroke-width="1.3" />
<text x="388" y="360.29999999999995" font-size="9.8" fill="#151515" text-anchor="end" font-weight="normal"  stroke="#151515" stroke-width="0.18">150</text>
<line x1="395" y1="356.9" x2="401" y2="356.9" stroke="#333" stroke-width="1.3" />
<text x="388" y="369.7" font-size="9.8" fill="#151515" text-anchor="end" font-weight="normal"  stroke="#151515" stroke-width="0.18">100</text>
<line x1="395" y1="366.3" x2="401" y2="366.3" stroke="#333" stroke-width="1.3" />
<text x="388" y="379.59999999999997" font-size="9.8" fill="#151515" text-anchor="end" font-weight="normal"  stroke="#151515" stroke-width="0.18">50</text>
<line x1="395" y1="376.2" x2="401" y2="376.2" stroke="#333" stroke-width="1.3" />
<text x="388" y="387.7" font-size="9.8" fill="#151515" text-anchor="end" font-weight="normal"  stroke="#151515" stroke-width="0.18">15</text>
<line x1="395" y1="384.3" x2="401" y2="384.3" stroke="#333" stroke-width="1.3" />
<rect x="407" y="271.9" width="15.7" height="2" fill="#6a2db8" filter="url(#b05)"/>
<rect x="407" y="278.7" width="15.7" height="1.2" fill="#666" filter="url(#b05)"/>
<rect x="407" y="281.1" width="15.7" height="1.2" fill="#555" filter="url(#b05)"/>
<rect x="407" y="282.9" width="15.7" height="1.2" fill="#666" filter="url(#b05)"/>
<rect x="407" y="287.3" width="15.7" height="1.4" fill="#555" filter="url(#b05)"/>
<rect x="407" y="302.7" width="15.7" height="1.2" fill="#666" filter="url(#b05)"/>
<rect x="407" y="313.9" width="15.7" height="1.3" fill="#555" filter="url(#b05)"/>
<rect x="407" y="329.4" width="15.7" height="1.3" fill="#888" filter="url(#b05)"/>
<rect x="407" y="347.2" width="15.7" height="1.3" fill="#aaa" filter="url(#b05)"/>
<rect x="407" y="356.4" width="15.7" height="1.2" fill="#aaa" filter="url(#b05)"/>
<rect x="407" y="366.2" width="15.7" height="1.3" fill="#aaa" filter="url(#b05)"/>
<rect x="407" y="376.4" width="15.7" height="1.2" fill="#bbb" filter="url(#b05)"/>
<rect x="407" y="379.8" width="15.7" height="1.1" fill="#ccc" filter="url(#b05)"/>
<rect x="407" y="383.0" width="15.7" height="2.2" fill="#0f7a0f" filter="url(#b05)"/>
<rect x="427" y="296" width="17.5" height="56" fill="url(#sm2)"/>
<rect x="425.3" y="239.3" width="20.2" height="178.2" fill="none" stroke="#8a8a8a" stroke-width="1"/>
<rect x="427" y="270.9" width="17.5" height="1.5" fill="#6a2db8" filter="url(#b05)"/>
<rect x="427" y="383.5" width="17.5" height="1.6" fill="#148214" filter="url(#b05)"/>
<text x="388" y="508.79999999999995" font-size="10.1" fill="#151515" text-anchor="end" font-weight="normal"  stroke="#151515" stroke-width="0.18">7000</text>
<line x1="394.6" y1="505.4" x2="400.7" y2="505.4" stroke="#333" stroke-width="1.3" />
<text x="388" y="523.1" font-size="10.1" fill="#151515" text-anchor="end" font-weight="normal"  stroke="#151515" stroke-width="0.18">2000</text>
<line x1="394.6" y1="519.7" x2="400.7" y2="519.7" stroke="#333" stroke-width="1.3" />
<text x="388" y="531.9" font-size="10.1" fill="#151515" text-anchor="end" font-weight="normal"  stroke="#151515" stroke-width="0.18">1000</text>
<line x1="394.6" y1="528.5" x2="400.7" y2="528.5" stroke="#333" stroke-width="1.3" />
<text x="388" y="544.0" font-size="10.1" fill="#151515" text-anchor="end" font-weight="normal"  stroke="#151515" stroke-width="0.18">600</text>
<line x1="394.6" y1="540.6" x2="400.7" y2="540.6" stroke="#333" stroke-width="1.3" />
<text x="388" y="552.1" font-size="10.1" fill="#151515" text-anchor="end" font-weight="normal"  stroke="#151515" stroke-width="0.18">500</text>
<line x1="394.6" y1="548.7" x2="400.7" y2="548.7" stroke="#333" stroke-width="1.3" />
<text x="388" y="561.4" font-size="10.1" fill="#151515" text-anchor="end" font-weight="normal"  stroke="#151515" stroke-width="0.18">400</text>
<line x1="394.6" y1="558" x2="400.7" y2="558" stroke="#333" stroke-width="1.3" />
<text x="388" y="574.4" font-size="10.1" fill="#151515" text-anchor="end" font-weight="normal"  stroke="#151515" stroke-width="0.18">300</text>
<line x1="394.6" y1="571" x2="400.7" y2="571" stroke="#333" stroke-width="1.3" />
<text x="388" y="589.3" font-size="10.1" fill="#151515" text-anchor="end" font-weight="normal"  stroke="#151515" stroke-width="0.18">200</text>
<line x1="394.6" y1="585.9" x2="400.7" y2="585.9" stroke="#333" stroke-width="1.3" />
<text x="388" y="598.1" font-size="10.1" fill="#151515" text-anchor="end" font-weight="normal"  stroke="#151515" stroke-width="0.18">150</text>
<line x1="394.6" y1="594.7" x2="400.7" y2="594.7" stroke="#333" stroke-width="1.3" />
<text x="388" y="606.1999999999999" font-size="10.1" fill="#151515" text-anchor="end" font-weight="normal"  stroke="#151515" stroke-width="0.18">100</text>
<line x1="394.6" y1="602.8" x2="400.7" y2="602.8" stroke="#333" stroke-width="1.3" />
<text x="388" y="619.8" font-size="10.1" fill="#151515" text-anchor="end" font-weight="normal"  stroke="#151515" stroke-width="0.18">35</text>
<line x1="394.6" y1="616.4" x2="400.7" y2="616.4" stroke="#333" stroke-width="1.3" />
<rect x="426" y="467" width="20" height="169" fill="url(#sm3)"/>
<rect x="406.2" y="499.1" width="19.1" height="2.2" fill="#6a2db8" filter="url(#b05)"/>
<rect x="406.2" y="505.1" width="19.1" height="1.5" fill="#999" filter="url(#b05)"/>
<rect x="406.2" y="513.6" width="19.1" height="1.7" fill="#555" filter="url(#b05)"/>
<rect x="406.2" y="518.6" width="19.1" height="1.7" fill="#666" filter="url(#b05)"/>
<rect x="406.2" y="528.1" width="19.1" height="1.7" fill="#777" filter="url(#b05)"/>
<rect x="406.2" y="534.6" width="19.1" height="1.7" fill="#555" filter="url(#b05)"/>
<rect x="406.2" y="539.9" width="19.1" height="1.7" fill="#555" filter="url(#b05)"/>
<rect x="406.2" y="548.2" width="19.1" height="1.6" fill="#777" filter="url(#b05)"/>
<rect x="406.2" y="557.4" width="19.1" height="1.6" fill="#777" filter="url(#b05)"/>
<rect x="406.2" y="570.6" width="19.1" height="1.5" fill="#b5b5b5" filter="url(#b05)"/>
<rect x="406.2" y="586.0" width="19.1" height="1.5" fill="#d8d8d8" filter="url(#b05)"/>
<rect x="406.2" y="594.1" width="19.1" height="1.5" fill="#b5b5b5" filter="url(#b05)"/>
<rect x="406.2" y="602.2" width="19.1" height="1.5" fill="#b5b5b5" filter="url(#b05)"/>
<rect x="406.2" y="611.9" width="19.1" height="1.2" fill="#ddd" filter="url(#b05)"/>
<rect x="406.2" y="614.6" width="19.1" height="2.4" fill="#0f7a0f" filter="url(#b05)"/>
<rect x="427" y="506.0" width="18.0" height="6" fill="#d6d6d6" filter="url(#b05)"/>
<rect x="427" y="513.5" width="18.0" height="2" fill="#bdbdbd" filter="url(#b05)"/>
<rect x="427" y="517.8" width="18.0" height="2.5" fill="#a8a8a8" filter="url(#b05)"/>
<rect x="427" y="520.8" width="18.0" height="2.5" fill="#9a9a9a" filter="url(#b05)"/>
<rect x="427" y="523.8" width="18.0" height="2.5" fill="#8e8e8e" filter="url(#b05)"/>
<rect x="427" y="526.8" width="18.0" height="2.5" fill="#9a9a9a" filter="url(#b05)"/>
<rect x="427" y="529.8" width="18.0" height="2.5" fill="#b0b0b0" filter="url(#b05)"/>
<rect x="427" y="533.5" width="18.0" height="3" fill="#c8c8c8" filter="url(#b05)"/>
<rect x="427" y="538.5" width="18.0" height="3" fill="#d4d4d4" filter="url(#b05)"/>
<rect x="427" y="544.5" width="18.0" height="3" fill="#dcdcdc" filter="url(#b05)"/>
<rect x="427" y="553.8" width="18.0" height="1.5" fill="#d9d9d9" filter="url(#b05)"/>
<rect x="427" y="560.6" width="18.0" height="1.8" fill="#a8a8a8" filter="url(#b05)"/>
<rect x="427" y="564.5" width="18.0" height="3" fill="#d4d4d4" filter="url(#b05)"/>
<rect x="427" y="568.9" width="18.0" height="1.8" fill="#7d7d7d" filter="url(#b05)"/>
<rect x="427" y="572.5" width="18.0" height="3" fill="#d0d0d0" filter="url(#b05)"/>
<rect x="427" y="578.0" width="18.0" height="2" fill="#b4b4b4" filter="url(#b05)"/>
<rect x="427" y="581.5" width="18.0" height="3" fill="#dddddd" filter="url(#b05)"/>
<rect x="425.3" y="466.3" width="21.1" height="169.9" fill="none" stroke="#444" stroke-width="1.3"/>
<rect x="427" y="501.2" width="18.0" height="2.4" fill="#6a2db8" filter="url(#b05)"/>
<rect x="427" y="615.2" width="18.0" height="2.4" fill="#148214" filter="url(#b05)"/>
<path d="M449.3,506.5 C453,507 454.3,509 454.3,514 V575.5 C454.3,580.5 453,582.5 449.3,583" fill="none" stroke="#222" stroke-width="1"/>
<text transform="translate(13.2,655.2) scale(1,1.12)" font-size="19.4" font-weight="bold" fill="#000">c</text>
<text transform="translate(94.6,753.6) rotate(-90)" font-size="11.5" font-weight="bold" fill="#000">50 bp ladder</text>
<text transform="translate(145.4,753.6) rotate(-90)" font-size="11.5" font-weight="bold" fill="#000">AMPure XP&#160;&#160;beads</text>
<text transform="translate(194.7,753.6) rotate(-90)" font-size="11.5" font-weight="bold" fill="#000">100 bp ladder</text>
<text transform="translate(297.4,752.6) rotate(-90)" font-size="11.5" font-weight="bold" fill="#000">100 bp ladder</text>
<text transform="translate(323.6,752.6) rotate(-90)" font-size="11.35" font-weight="bold" fill="#000">Silica columns</text>
<defs>
<filter id="gn" x="0" y="0" width="100%" height="100%"><feTurbulence type="fractalNoise" baseFrequency="0.33" numOctaves="2" seed="5" result="n"/><feColorMatrix in="n" type="matrix" values="1.3 0 0 0 -0.1  1.3 0 0 0 -0.1  1.3 0 0 0 -0.1  0 0 0 0 0.13"/></filter>
<filter id="gn3" x="0" y="0" width="100%" height="100%"><feTurbulence type="fractalNoise" baseFrequency="0.6" numOctaves="2" seed="11" result="n"/><feColorMatrix in="n" type="matrix" values="1.3 0 0 0 -0.1  1.3 0 0 0 -0.1  1.3 0 0 0 -0.1  0 0 0 0 0.09"/></filter>
<filter id="b15" x="-30%" y="-100%" width="160%" height="300%"><feGaussianBlur stdDeviation="1.5"/></filter>
<filter id="b3" x="-50%" y="-50%" width="200%" height="200%"><feGaussianBlur stdDeviation="3"/></filter>
<filter id="b6" x="-50%" y="-50%" width="200%" height="200%"><feGaussianBlur stdDeviation="6"/></filter>
<radialGradient id="gg1" cx="0.5" cy="0.3" r="0.8"><stop offset="0" stop-color="#383838"/><stop offset="1" stop-color="#2b2b2b"/></radialGradient>
<linearGradient id="gg2" x1="0" y1="0" x2="0" y2="1"><stop offset="0" stop-color="#3e3e3e"/><stop offset="0.5" stop-color="#363636"/><stop offset="1" stop-color="#2c2c2c"/></linearGradient>
<linearGradient id="gg3" x1="0" y1="0" x2="0" y2="1"><stop offset="0" stop-color="#3c3c3c"/><stop offset="0.45" stop-color="#2c2c2c"/><stop offset="0.7" stop-color="#1f1f1f"/><stop offset="1" stop-color="#151515"/></linearGradient>
<linearGradient id="smA" x1="0" y1="0" x2="0" y2="1"><stop offset="0" stop-color="#fff" stop-opacity="0.03"/><stop offset="0.3" stop-color="#fff" stop-opacity="0.07"/><stop offset="0.42" stop-color="#fff" stop-opacity="0.18"/><stop offset="0.55" stop-color="#fff" stop-opacity="0.38"/><stop offset="0.75" stop-color="#fff" stop-opacity="0.56"/><stop offset="0.9" stop-color="#fff" stop-opacity="0.62"/><stop offset="1" stop-color="#fff" stop-opacity="0.45"/></linearGradient>
<linearGradient id="smB" x1="0" y1="0" x2="0" y2="1"><stop offset="0" stop-color="#fff" stop-opacity="0"/><stop offset="0.3" stop-color="#fff" stop-opacity="0.14"/><stop offset="0.8" stop-color="#fff" stop-opacity="0.22"/><stop offset="1" stop-color="#fff" stop-opacity="0.3"/></linearGradient>
<clipPath id="cg1"><rect x="71" y="761" width="88.3" height="217.6"/></clipPath>
<clipPath id="cg2"><rect x="163.3" y="761" width="45" height="217.6"/></clipPath>
<clipPath id="cg3"><rect x="276.8" y="760.8" width="59.4" height="216.4"/></clipPath>
</defs>
<g clip-path="url(#cg1)">
<rect x="71" y="761" width="88.3" height="217.6" fill="url(#gg1)"/>
<rect x="83.8" y="771.9" width="16.5" height="3" fill="#fff" opacity="0.42" filter="url(#b15)"/>
<rect x="83.8" y="788.5" width="16.5" height="3" fill="#fff" opacity="0.4" filter="url(#b15)"/>
<rect x="83.8" y="814.3" width="16.5" height="3" fill="#fff" opacity="0.42" filter="url(#b15)"/>
<rect x="83.8" y="821.3" width="16.5" height="3" fill="#fff" opacity="0.36" filter="url(#b15)"/>
<rect x="83.8" y="829.1" width="16.5" height="3" fill="#fff" opacity="0.34" filter="url(#b15)"/>
<rect x="83.8" y="838.1" width="16.5" height="3" fill="#fff" opacity="0.33" filter="url(#b15)"/>
<rect x="83.8" y="848.3" width="16.5" height="3" fill="#fff" opacity="0.36" filter="url(#b15)"/>
<rect x="83.8" y="860.2" width="16.5" height="3.8" fill="#fff" opacity="0.6" filter="url(#b15)"/>
<rect x="83.8" y="874.0" width="16.5" height="3.2" fill="#fff" opacity="0.3" filter="url(#b15)"/>
<rect x="83.8" y="891.0" width="16.5" height="4" fill="#fff" opacity="0.2" filter="url(#b15)"/>
<rect x="83.8" y="912.5" width="16.5" height="5" fill="#fff" opacity="0.17" filter="url(#b15)"/>
<rect x="83.8" y="940.6" width="16.5" height="8" fill="#fff" opacity="0.1" filter="url(#b15)"/>
<polygon points="128.5,776 142.5,776 143.5,812 145.5,850 145.2,867 126.5,867 126.2,850 128,812" fill="url(#smA)" filter="url(#b2)"/>
<rect x="131" y="826" width="9" height="37" fill="#fff" opacity="0.2" filter="url(#b2)"/>
<rect x="71" y="761" width="88.3" height="217.6" filter="url(#gn)"/>
</g>
<g clip-path="url(#cg2)">
<rect x="163.3" y="761" width="45" height="217.6" fill="url(#gg2)"/>
<rect x="177" y="768" width="21" height="42" fill="#fff" opacity="0.22" filter="url(#b3)"/>
<rect x="178.5" y="771.8" width="18.3" height="3" fill="#fff" opacity="0.36" filter="url(#b15)"/>
<rect x="178.5" y="777.0" width="18.3" height="3" fill="#fff" opacity="0.4" filter="url(#b15)"/>
<rect x="178.5" y="781.9" width="18.3" height="3" fill="#fff" opacity="0.4" filter="url(#b15)"/>
<rect x="178.5" y="787.5" width="18.3" height="3" fill="#fff" opacity="0.42" filter="url(#b15)"/>
<rect x="178.5" y="792.9" width="18.3" height="3" fill="#fff" opacity="0.44" filter="url(#b15)"/>
<rect x="178.5" y="802.4" width="18.3" height="3.6" fill="#fff" opacity="0.52" filter="url(#b15)"/>
<rect x="178.5" y="814.4" width="18.3" height="6" fill="#fff" opacity="0.95" filter="url(#b15)"/>
<rect x="178.5" y="830.5" width="18.3" height="4.2" fill="#fff" opacity="0.68" filter="url(#b15)"/>
<rect x="178.5" y="849.9" width="18.3" height="4" fill="#fff" opacity="0.6" filter="url(#b15)"/>
<rect x="178.5" y="876.6" width="18.3" height="4.5" fill="#fff" opacity="0.6" filter="url(#b15)"/>
<rect x="178.5" y="914.1" width="18.3" height="6.5" fill="#fff" opacity="0.45" filter="url(#b15)"/>
<rect x="163.3" y="761" width="45" height="217.6" filter="url(#gn)"/>
</g>
<g clip-path="url(#cg3)">
<rect x="276.8" y="760.8" width="59.5" height="217.2" fill="url(#gg3)"/>
<ellipse cx="303" cy="828" rx="25" ry="68" fill="#fff" opacity="0.17" filter="url(#b6)"/>
<rect x="283" y="778.0" width="21" height="3.4" fill="#fff" opacity="0.3" filter="url(#b15)" transform="rotate(-4 293.5 779.7)"/>
<rect x="283" y="784.9" width="21" height="3.4" fill="#fff" opacity="0.3" filter="url(#b15)" transform="rotate(-4 293.5 786.6)"/>
<rect x="283" y="792.9" width="21" height="3.4" fill="#fff" opacity="0.3" filter="url(#b15)" transform="rotate(-4 293.5 794.6)"/>
<rect x="283" y="800.8" width="21" height="3.4" fill="#fff" opacity="0.3" filter="url(#b15)" transform="rotate(-4 293.5 802.5)"/>
<rect x="283" y="811.5" width="21" height="3.6" fill="#fff" opacity="0.32" filter="url(#b15)" transform="rotate(-4 293.5 813.3)"/>
<rect x="283" y="822.9" width="21" height="4.6" fill="#fff" opacity="0.58" filter="url(#b15)" transform="rotate(-4 293.5 825.2)"/>
<rect x="283" y="838.0" width="21" height="4" fill="#fff" opacity="0.28" filter="url(#b15)" transform="rotate(-4 293.5 840)"/>
<rect x="283" y="855.5" width="21" height="4" fill="#fff" opacity="0.23" filter="url(#b15)" transform="rotate(-4 293.5 857.5)"/>
<rect x="283" y="878.4" width="21" height="4.5" fill="#fff" opacity="0.17" filter="url(#b15)" transform="rotate(-4 293.5 880.6)"/>
<rect x="283" y="910.2" width="21" height="6" fill="#fff" opacity="0.13" filter="url(#b15)" transform="rotate(-4 293.5 913.2)"/>
<rect x="313" y="800" width="21" height="66" fill="url(#smB)" filter="url(#b2)"/>
<rect x="310" y="864.7" width="25.5" height="9" fill="#fff" opacity="0.3" filter="url(#b2)"/>
<rect x="310.5" y="865.5" width="24.5" height="7.4" fill="#fff" opacity="0.92" filter="url(#b15)"/>
<rect x="276.8" y="760.8" width="59.5" height="217.2" filter="url(#gn3)"/>
</g>
<text transform="translate(69.2,817.50) scale(1,1.08)" font-size="9.2" text-anchor="end" fill="#000" stroke="#000" stroke-width="0.22">500-</text>
<text transform="translate(69.2,853.80) scale(1,1.08)" font-size="9.2" text-anchor="end" fill="#000" stroke="#000" stroke-width="0.22">300-</text>
<text transform="translate(69.2,866.00) scale(1,1.08)" font-size="9.2" text-anchor="end" fill="#000" stroke="#000" stroke-width="0.22">250-</text>
<text transform="translate(69.2,877.00) scale(1,1.08)" font-size="9.2" text-anchor="end" fill="#000" stroke="#000" stroke-width="0.22">200-</text>
<text transform="translate(69.2,896.60) scale(1,1.08)" font-size="9.2" text-anchor="end" fill="#000" stroke="#000" stroke-width="0.22">150-</text>
<text transform="translate(69.2,920.40) scale(1,1.08)" font-size="9.2" text-anchor="end" fill="#000" stroke="#000" stroke-width="0.22">100-</text>
<text transform="translate(211.8,821.20) scale(1,1.08)" font-size="9.2" text-anchor="start" fill="#000" stroke="#000" stroke-width="0.22">-500</text>
<text transform="translate(211.8,837.30) scale(1,1.08)" font-size="9.2" text-anchor="start" fill="#000" stroke="#000" stroke-width="0.22">-400</text>
<text transform="translate(211.8,856.60) scale(1,1.08)" font-size="9.2" text-anchor="start" fill="#000" stroke="#000" stroke-width="0.22">-300</text>
<text transform="translate(211.8,882.60) scale(1,1.08)" font-size="9.2" text-anchor="start" fill="#000" stroke="#000" stroke-width="0.22">-200</text>
<text transform="translate(211.8,924.10) scale(1,1.08)" font-size="9.2" text-anchor="start" fill="#000" stroke="#000" stroke-width="0.22">-100</text>
<text transform="translate(275.9,828.00) scale(1,1.08)" font-size="9.2" text-anchor="end" fill="#000" stroke="#000" stroke-width="0.22">500-</text>
<text transform="translate(275.9,844.40) scale(1,1.08)" font-size="9.2" text-anchor="end" fill="#000" stroke="#000" stroke-width="0.22">400-</text>
<text transform="translate(275.9,861.60) scale(1,1.08)" font-size="9.2" text-anchor="end" fill="#000" stroke="#000" stroke-width="0.22">300-</text>
<text transform="translate(275.9,883.00) scale(1,1.08)" font-size="9.2" text-anchor="end" fill="#000" stroke="#000" stroke-width="0.22">200-</text>
<text transform="translate(275.9,916.00) scale(1,1.08)" font-size="9.2" text-anchor="end" fill="#000" stroke="#000" stroke-width="0.22">100-</text>
<line x1="341" y1="869.1" x2="348.5" y2="869.1" stroke="#000" stroke-width="1.1" />
<polygon points="337.1,869.1 342.6,866.1 342.6,872.1" fill="#000"/>
<text x="354.3" y="873.1" font-size="11.55" fill="#000" text-anchor="start" font-weight="normal" stroke="#000" stroke-width="0.15">Adapter dimers</text>
</svg></body></html>
